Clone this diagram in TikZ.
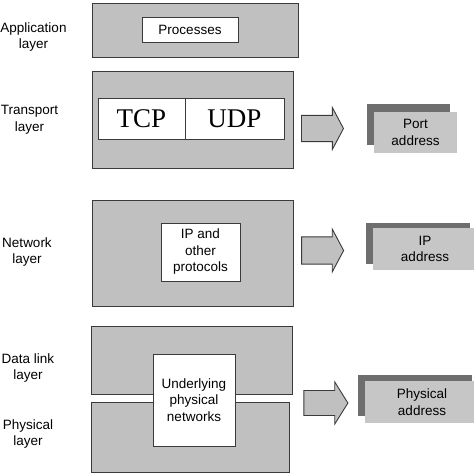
\documentclass[tikz,border=0pt]{standalone}
\usepackage{fontspec}
\setmainfont{Liberation Sans}
\newfontfamily\serifface{Liberation Serif}
\usetikzlibrary{shapes.arrows}
\definecolor{boxgray}{HTML}{C0C0C0}
\definecolor{cardgray}{HTML}{C6C6C6}
\definecolor{carddark}{HTML}{6E6E6E}
\definecolor{edgegray}{HTML}{3A3A3A}
\tikzset{
  layerbox/.style={draw=edgegray, fill=boxgray, line width=0.9pt, inner sep=0pt, outer sep=0pt},
  innerbox/.style={draw=edgegray, fill=white, line width=0.9pt, inner sep=0pt, outer sep=0pt, align=center,
    font=\fontsize{13.5}{16.5}\selectfont},
  layername/.style={align=center, font=\fontsize{13.5}{16.5}\selectfont},
  blockarrow/.style={single arrow, draw=edgegray, fill=boxgray, line width=0.9pt, inner xsep=0pt, inner ysep=11.5pt,
    minimum height=42pt, single arrow tip angle=124},
  cardback/.style={fill=carddark, inner sep=0pt, minimum width=#1, minimum height=41pt},
  cardfront/.style={fill=cardgray, inner sep=0pt, minimum width=#1, minimum height=41pt, align=center,
    font=\fontsize{13.5}{16.5}\selectfont}
}
\begin{document}
\begin{tikzpicture}[x=1pt, y=-1pt]
    \useasboundingbox (0,0) rectangle (474,474);

    % Application layer
    \node[layername] (applbl) at (33.5,37) {Application\\layer};
    \node[layerbox, minimum width=206pt, minimum height=54pt] (app) at (195,30) {};
    \node[innerbox, minimum width=96pt, minimum height=25pt] (proc) at (190,29.5) {Processes};

    % Transport layer
    \node[layername] (trlbl) at (29.5,120) {Transport\\layer};
    \node[layerbox, minimum width=201pt, minimum height=97pt] (transport) at (192.5,119.5) {};
    \node[innerbox, minimum width=87pt, minimum height=41pt, font=\serifface\fontsize{27}{30}\selectfont] (tcp) at (141.5,118.5) {TCP};
    \node[innerbox, minimum width=99pt, minimum height=41pt, font=\serifface\fontsize{27}{30}\selectfont] (udp) at (234.5,118.5) {UDP};
    \node[blockarrow, minimum width=42pt] (portarrow) at (319,128.5) {};
    \node[cardback=83pt] (portback) at (408.5,124.5) {};
    \node[cardfront=83pt] (port) at (415.5,132.5) {Port\\address};

    % Network layer
    \node[layername] (netlbl) at (27,252) {Network\\layer};
    \node[layerbox, minimum width=201pt, minimum height=106pt] (network) at (192.5,253) {};
    \node[innerbox, minimum width=79pt, minimum height=58pt] (ip) at (200.5,252) {IP and\\other\\protocols};
    \node[blockarrow, minimum width=43pt, inner ysep=12pt] (iparrow) at (319,250.5) {};
    \node[cardback=104pt] (ipback) at (418,243) {};
    \node[cardfront=104pt, minimum height=42pt] (ipaddr) at (425,249) {IP\\address};

    % Data link and physical layers
    \node[layername] (dllbl) at (28,368) {Data link\\layer};
    \node[layername] (phlbl) at (28,434) {Physical\\layer};
    \node[layerbox, minimum width=201pt, minimum height=68pt] (datalink) at (191.5,360) {};
    \node[layerbox, minimum width=198pt, minimum height=70pt] (physical) at (190,437) {};
    \node[innerbox, minimum width=82pt, minimum height=92pt] (under) at (194,400) {Underlying\\physical\\networks};
    \node[blockarrow, minimum width=42pt, minimum height=44pt, inner ysep=10pt, single arrow tip angle=116] (phyarrow) at (322,403) {};
    \node[cardback=114pt] (phyback) at (415,395.5) {};
    \node[cardfront=114pt, minimum height=42pt] (phyaddr) at (422,402) {Physical\\address};
\end{tikzpicture}
\end{document}
